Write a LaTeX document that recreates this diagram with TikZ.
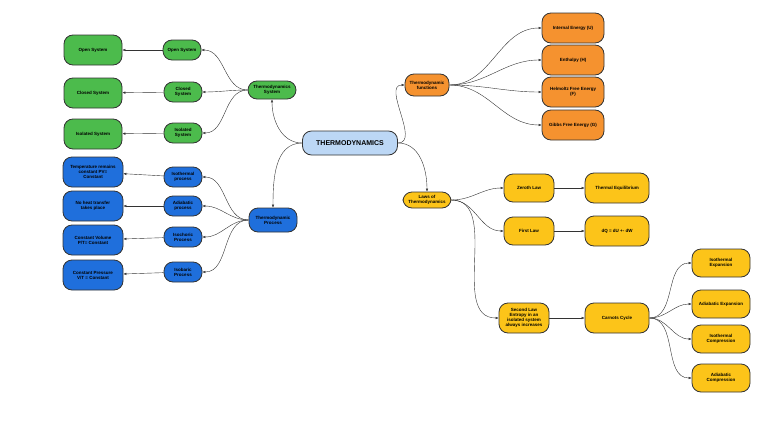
\documentclass[tikz,border=0pt]{standalone}
\usepackage{fontspec}
\setmainfont{Liberation Sans}
\usetikzlibrary{arrows.meta}
\definecolor{grn}{HTML}{4CBB4C}
\definecolor{blu}{HTML}{1F6FDC}
\definecolor{org}{HTML}{F5922F}
\definecolor{ylw}{HTML}{FCC419}
\definecolor{ctr}{HTML}{BCD7F5}
\tikzset{
  box/.style={draw=black!80, thick, rounded corners=9pt, align=center, inner sep=1pt, font=\fontsize{4.5}{5}\selectfont\bfseries},
  gbox/.style={box, fill=grn},
  bbox/.style={box, fill=blu},
  obox/.style={box, fill=org},
  ybox/.style={box, fill=ylw},
  lnk/.style={-{Latex[length=3pt,width=2.5pt]}, black!80, thin},
}
\begin{document}
\begin{tikzpicture}[x=1pt,y=-1pt]
\path[use as bounding box] (0,0) rectangle (768,423);
\node[box, fill=ctr, minimum width=95, minimum height=24, font=\fontsize{7}{8}\selectfont\bfseries] (thermo) at (350,143) {THERMODYNAMICS};

\node[gbox, minimum width=48, minimum height=18] (sys) at (272,90) {Thermodynamics\\System};
\node[gbox, minimum width=38, minimum height=20] (open) at (182,50) {Open System};
\node[gbox, minimum width=38, minimum height=20] (closed) at (183,92) {Closed\\System};
\node[gbox, minimum width=38, minimum height=20] (isol) at (183,133) {Isolated\\System};
\node[gbox, minimum width=58, minimum height=30] (openb) at (93,50) {Open System};
\node[gbox, minimum width=58, minimum height=30] (closedb) at (93,93) {Closed System};
\node[gbox, minimum width=58, minimum height=30] (isolb) at (93,134) {Isolated System};

\node[bbox, minimum width=48, minimum height=24] (proc) at (273,220) {Thermodynamic\\Process};
\node[bbox, minimum width=38, minimum height=20] (isoth) at (183,177) {Isothermal\\process};
\node[bbox, minimum width=38, minimum height=20] (adiab) at (183,206) {Adiabatic\\process};
\node[bbox, minimum width=38, minimum height=20] (isoch) at (183,237) {Isochoric\\Process};
\node[bbox, minimum width=38, minimum height=20] (isob) at (183,272) {Isobaric\\Process};
\node[bbox, minimum width=60, minimum height=30] (isothb) at (93,172) {Temperature remains\\constant PV=\\Constant};
\node[bbox, minimum width=60, minimum height=30] (adiabb) at (93,206) {No heat transfer\\takes place};
\node[bbox, minimum width=60, minimum height=30] (isochb) at (93,240) {Constant Volume\\P/T= Constant};
\node[bbox, minimum width=60, minimum height=30] (isobb) at (93,275) {Constant Pressure\\V/T = Constant};

\node[obox, minimum width=44, minimum height=22] (func) at (427,85) {Thermodynamic\\functions};
\node[obox, minimum width=62, minimum height=30] (inten) at (573,28) {Internal Energy (U)};
\node[obox, minimum width=62, minimum height=30] (enth) at (573,60) {Enthalpy (H)};
\node[obox, minimum width=62, minimum height=30] (helm) at (573,92) {Helmoltz Free Energy\\(F)};
\node[obox, minimum width=62, minimum height=30] (gibbs) at (573,125) {Gibbs Free Energy (G)};

\node[ybox, minimum width=48, minimum height=16] (laws) at (427,200) {Laws of\\Thermodynamics};
\node[ybox, minimum width=50, minimum height=28] (zeroth) at (529,188) {Zeroth Law};
\node[ybox, minimum width=64, minimum height=30] (equil) at (617,188) {Thermal Equilibrium};
\node[ybox, minimum width=50, minimum height=28] (first) at (529,231) {First Law};
\node[ybox, minimum width=64, minimum height=30] (dq) at (617,231) {dQ = dU +- dW};
\node[ybox, minimum width=50, minimum height=30] (second) at (524,318) {Second Law\\Entropy in an\\isolated system\\always increases};
\node[ybox, minimum width=64, minimum height=30] (carnot) at (617,318) {Carnots Cycle};
\node[ybox, minimum width=58, minimum height=28] (isoexp) at (721,263) {Isothermal\\Expansion};
\node[ybox, minimum width=58, minimum height=28] (adexp) at (721,304) {Adiabatic Expansion};
\node[ybox, minimum width=58, minimum height=28] (isocomp) at (721,339) {Isothermal\\Compression};
\node[ybox, minimum width=58, minimum height=28] (adcomp) at (721,378) {Adiabatic\\Compression};

% centre
\draw[lnk] (thermo.west) to[out=180,in=-90] (sys.south);
\draw[lnk] (thermo.west) to[out=180,in=90] (proc.north);
\draw[lnk] (thermo.east) to[out=0,in=180] (func.west);
\draw[lnk] (thermo.east) to[out=0,in=90] (laws.north);

% system
\foreach \n in {open,closed,isol}
  \draw[lnk] (sys.west) to[out=180,in=0] (\n.east);
\draw[lnk] (open) -- (openb);
\draw[lnk] (closed) -- (closedb);
\draw[lnk] (isol) -- (isolb);

% process
\foreach \n in {isoth,adiab,isoch,isob}
  \draw[lnk] (proc.west) to[out=180,in=0] (\n.east);
\draw[lnk] (isoth) -- (isothb);
\draw[lnk] (adiab) -- (adiabb);
\draw[lnk] (isoch) -- (isochb);
\draw[lnk] (isob) -- (isobb);

% functions
\foreach \n in {inten,enth,helm,gibbs}
  \draw[lnk] (func.east) to[out=0,in=180] (\n.west);

% laws
\foreach \n in {zeroth,first,second}
  \draw[lnk] (laws.east) to[out=0,in=180] (\n.west);
\draw[lnk] (zeroth) -- (equil);
\draw[lnk] (first) -- (dq);
\draw[lnk] (second) -- (carnot);
\foreach \n in {isoexp,adexp,isocomp,adcomp}
  \draw[lnk] (carnot.east) to[out=0,in=180] (\n.west);
\end{tikzpicture}
\end{document}
